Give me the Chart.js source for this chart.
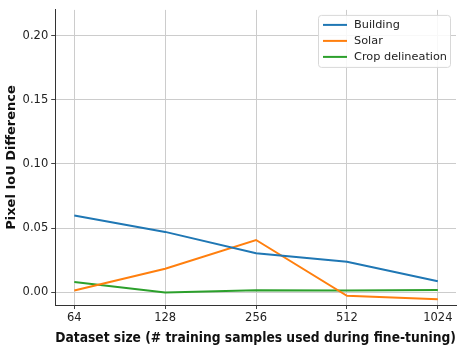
<!DOCTYPE html>
<html>
<head>
<meta charset="utf-8">
<script src="https://cdn.jsdelivr.net/npm/chart.js@4"></script>
<style>
  html, body { margin: 0; padding: 0; background: #fff; }
  #wrap { width: 474px; height: 351px; }
</style>
</head>
<body>
<div id="wrap"><canvas id="myChart" width="474" height="351"></canvas></div>
<script>
// dataset sizes (x axis, drawn on a log2 scale)
const sizes = [64, 128, 256, 512, 1024];
const building = [0.0597, 0.0470, 0.0304, 0.0237, 0.0085];
const solar = [0.0013, 0.0183, 0.0407, -0.0028, -0.0054];
const crop = [0.0080, -0.0002, 0.0015, 0.0013, 0.0018];
const yTicks = [0, 0.05, 0.10, 0.15, 0.20];

const FONT = "'DejaVu Sans', sans-serif";

function pts(vals) {
    return vals.map((v, i) => ({ x: Math.log2(sizes[i]), y: v }));
}

// legend box drawn inside the plot, top right
const innerLegend = {
    id: 'innerLegend',
    afterDraw(chart) {
        const ctx = chart.ctx;
        const area = chart.chartArea;
        const sets = chart.data.datasets;
        const w = 132, rowH = 16;
        const h = sets.length * rowH + 4;
        const x0 = area.right - w - 6;
        const y0 = area.top + 5;
        ctx.save();
        ctx.fillStyle = 'rgba(255,255,255,0.85)';
        ctx.strokeStyle = '#d8d8d8';
        ctx.lineWidth = 1;
        ctx.beginPath();
        ctx.roundRect(x0 + 0.5, y0 + 0.5, w, h, 3);
        ctx.fill();
        ctx.stroke();
        ctx.font = '11.3px ' + FONT;
        ctx.textBaseline = 'middle';
        sets.forEach((ds, i) => {
            const yy = y0 + 10 + i * rowH;
            ctx.strokeStyle = ds.borderColor;
            ctx.lineWidth = 2;
            ctx.beginPath();
            ctx.moveTo(x0 + 5, yy);
            ctx.lineTo(x0 + 29, yy);
            ctx.stroke();
            ctx.fillStyle = '#222';
            ctx.fillText(ds.label, x0 + 36, yy);
        });
        ctx.restore();
    }
};

const ctx = document.getElementById('myChart');

new Chart(ctx, {
    type: 'line',
    data: {
        datasets: [{
            label: 'Building',
            data: pts(building),
            borderColor: '#1f77b4',
            borderWidth: 2,
            pointRadius: 0
        }, {
            label: 'Solar',
            data: pts(solar),
            borderColor: '#ff7f0e',
            borderWidth: 2,
            pointRadius: 0
        }, {
            label: 'Crop delineation',
            data: pts(crop),
            borderColor: '#2ca02c',
            borderWidth: 2,
            pointRadius: 0
        }]
    },
    options: {
        responsive: false,
        animation: false,
        layout: { padding: { top: 7, right: 18, left: 4, bottom: 4 } },
        plugins: {
            legend: { display: false },
            tooltip: { enabled: false }
        },
        scales: {
            x: {
                type: 'linear',
                min: 5.79,
                max: 10.2,
                afterBuildTicks: axis => { axis.ticks = sizes.map(s => ({ value: Math.log2(s) })); },
                ticks: {
                    callback: v => String(Math.round(Math.pow(2, v))),
                    color: '#222',
                    font: { family: FONT, size: 11.5 },
                    padding: 2,
                    maxRotation: 0
                },
                grid: { color: '#cccccc', lineWidth: 1, tickLength: 4, tickColor: '#444' },
                border: { display: true, color: '#333', width: 1 },
                title: {
                    display: true,
                    text: 'Dataset size (# training samples used during fine-tuning)',
                    color: '#111',
                    font: { family: FONT, size: 14.3, weight: 'bold' },
                    padding: { top: 3, bottom: 0 }
                }
            },
            y: {
                min: -0.01,
                max: 0.22,
                afterBuildTicks: axis => { axis.ticks = yTicks.map(v => ({ value: v })); },
                ticks: {
                    callback: v => v.toFixed(2),
                    color: '#222',
                    font: { family: FONT, size: 11.5 },
                    padding: 3
                },
                grid: { color: '#cccccc', lineWidth: 1, tickLength: 4, tickColor: '#444' },
                border: { display: true, color: '#333', width: 1 },
                title: {
                    display: true,
                    text: 'Pixel IoU Difference',
                    color: '#111',
                    font: { family: FONT, size: 13, weight: 'bold' },
                    padding: { top: 0, bottom: 0 }
                }
            }
        }
    },
    plugins: [innerLegend]
});
</script>
</body>
</html>
